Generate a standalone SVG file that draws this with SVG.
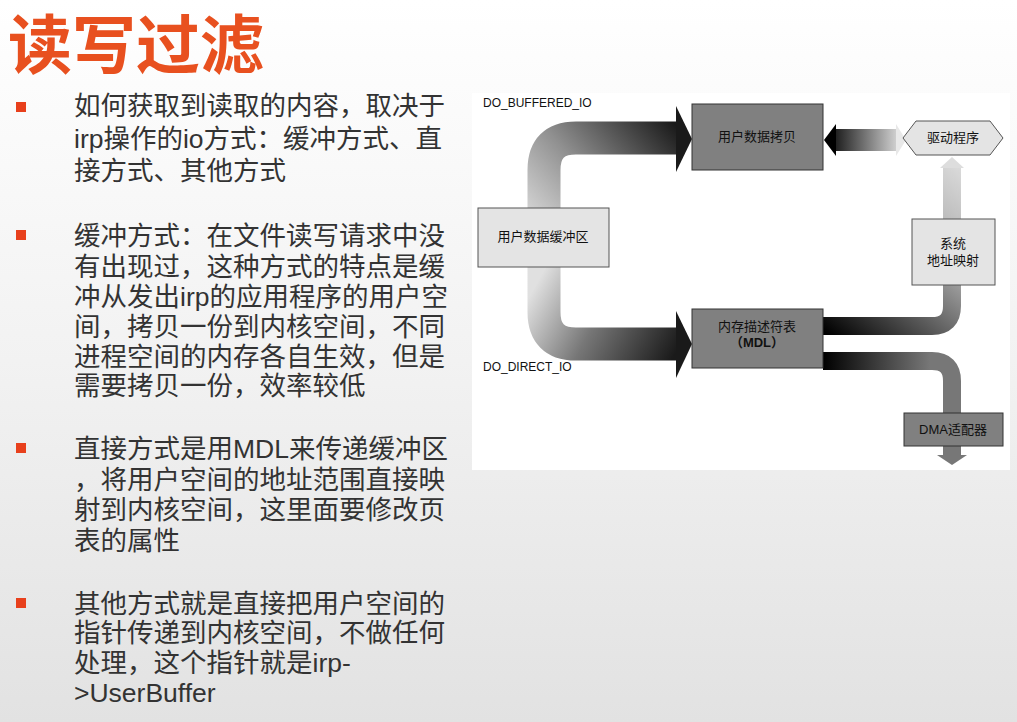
<svg xmlns="http://www.w3.org/2000/svg" width="1017" height="722" viewBox="0 0 1017 722">
<defs>
<linearGradient id="bg" x1="0" y1="0" x2="0" y2="1"><stop offset="0" stop-color="#ffffff"/><stop offset="0.5" stop-color="#f2f2f2"/><stop offset="1" stop-color="#e2e2e2"/></linearGradient>
<linearGradient id="gTop" gradientUnits="userSpaceOnUse" x1="544" y1="250" x2="680" y2="130"><stop offset="0" stop-color="#e0e0e0"/><stop offset="0.45" stop-color="#909090"/><stop offset="1" stop-color="#1a1a1a"/></linearGradient>
<linearGradient id="gBot" gradientUnits="userSpaceOnUse" x1="544" y1="270" x2="680" y2="345"><stop offset="0" stop-color="#e0e0e0"/><stop offset="0.45" stop-color="#777"/><stop offset="1" stop-color="#1a1a1a"/></linearGradient>
<linearGradient id="gDbl" gradientUnits="userSpaceOnUse" x1="825" y1="0" x2="905" y2="0"><stop offset="0" stop-color="#000"/><stop offset="1" stop-color="#e8e8e8"/></linearGradient>
<linearGradient id="gUp" gradientUnits="userSpaceOnUse" x1="823" y1="330" x2="960" y2="160"><stop offset="0" stop-color="#000"/><stop offset="0.6" stop-color="#aaa"/><stop offset="1" stop-color="#ddd"/></linearGradient>
<linearGradient id="gDn" gradientUnits="userSpaceOnUse" x1="823" y1="0" x2="930" y2="0"><stop offset="0" stop-color="#000"/><stop offset="1" stop-color="#777"/></linearGradient>
<style>
.t{font-family:"Liberation Sans","Noto Sans CJK SC",sans-serif;font-size:26.5px;fill:#333}
.s{font-family:"Liberation Sans","Noto Sans CJK SC",sans-serif;font-size:13px;fill:#111;text-anchor:middle}
.l{font-family:"Liberation Sans",sans-serif;font-size:12px;fill:#111}
.dk{fill:#808080;stroke:#333;stroke-width:1}
.lt{fill:#e4e4e4;stroke:#555;stroke-width:1}
.b{fill:#e8401c}
</style>
</defs>
<rect width="1017" height="722" fill="url(#bg)"/>
<text x="8" y="68" font-family="Noto Sans CJK SC,sans-serif" font-size="64" font-weight="bold" fill="#e8501f">读写过滤</text>
<g id="text">
<rect class="b" x="16" y="102" width="10" height="10"/>
<text class="t" x="74" y="115">如何获取到读取的内容，取决于</text>
<text class="t" x="74" y="148">irp操作的io方式：缓冲方式、直</text>
<text class="t" x="74" y="180">接方式、其他方式</text>
<rect class="b" x="16" y="230" width="10" height="10"/>
<text class="t" x="74" y="245">缓冲方式：在文件读写请求中没</text>
<text class="t" x="74" y="276">有出现过，这种方式的特点是缓</text>
<text class="t" x="74" y="306">冲从发出irp的应用程序的用户空</text>
<text class="t" x="74" y="336">间，拷贝一份到内核空间，不同</text>
<text class="t" x="74" y="366">进程空间的内存各自生效，但是</text>
<text class="t" x="74" y="395">需要拷贝一份，效率较低</text>
<rect class="b" x="16" y="443" width="10" height="10"/>
<text class="t" x="74" y="458">直接方式是用MDL来传递缓冲区</text>
<text class="t" x="74" y="489">，将用户空间的地址范围直接映</text>
<text class="t" x="74" y="519">射到内核空间，这里面要修改页</text>
<text class="t" x="74" y="550">表的属性</text>
<rect class="b" x="16" y="598" width="10" height="10"/>
<text class="t" x="74" y="613">其他方式就是直接把用户空间的</text>
<text class="t" x="74" y="642">指针传递到内核空间，不做任何</text>
<text class="t" x="74" y="672">处理，这个指针就是irp-</text>
<text class="t" x="74" y="702">&gt;UserBuffer</text>
</g>
<rect x="472" y="93" width="538" height="377" fill="#fff"/>
<text class="l" x="483" y="107">DO_BUFFERED_IO</text>
<text class="l" x="483" y="371">DO_DIRECT_IO</text>
<g id="connectors">
<path d="M544 236 V170 Q544 138 576 138 H678" fill="none" stroke="url(#gTop)" stroke-width="33"/>
<path d="M676 106 L692 139 L676 172 Z" fill="#1a1a1a"/>
<path d="M544 236 V312 Q544 344 576 344 H678" fill="none" stroke="url(#gBot)" stroke-width="33"/>
<path d="M676 311 L692 344 L676 378 Z" fill="#1a1a1a"/>
<rect x="835" y="129" width="62" height="22" fill="url(#gDbl)"/>
<path d="M836 124 L824 140 L836 156 Z" fill="#000"/>
<path d="M896 124 L906 140 L896 156 Z" fill="#e8e8e8"/>
<path d="M823 326 H932 Q952 326 952 306 V168" fill="none" stroke="url(#gUp)" stroke-width="18"/>
<path d="M940 168 L952 157 L964 168 Z" fill="#ddd"/>
<path d="M823 361 H932 Q952 361 952 381 V455" fill="none" stroke="url(#gDn)" stroke-width="18"/>
<path d="M937 455 L952 465 L967 455 Z" fill="#777"/>
</g>
<g id="n1"><rect class="dk" x="692" y="104" width="131" height="66"/><text class="s" x="757" y="141">用户数据拷贝</text></g>
<g id="n2"><rect class="lt" x="478" y="208" width="131" height="59"/><text class="s" x="543" y="241">用户数据缓冲区</text></g>
<g id="n3"><path class="lt" d="M916 121 H990 L1003 138 L990 155 H916 L903 138 Z"/><text class="s" x="953" y="142">驱动程序</text></g>
<g id="n4"><rect class="lt" x="912" y="219" width="83" height="66"/><text class="s" x="953" y="248">系统</text><text class="s" x="953" y="265">地址映射</text></g>
<g id="n5"><rect class="dk" x="692" y="309" width="131" height="59"/><text class="s" x="757" y="331">内存描述符表</text><text class="s" x="757" y="347" font-weight="bold">（MDL）</text></g>
<g id="n6"><rect class="dk" x="904" y="413" width="99" height="33"/><text class="s" x="953" y="434">DMA适配器</text></g>
</svg>
